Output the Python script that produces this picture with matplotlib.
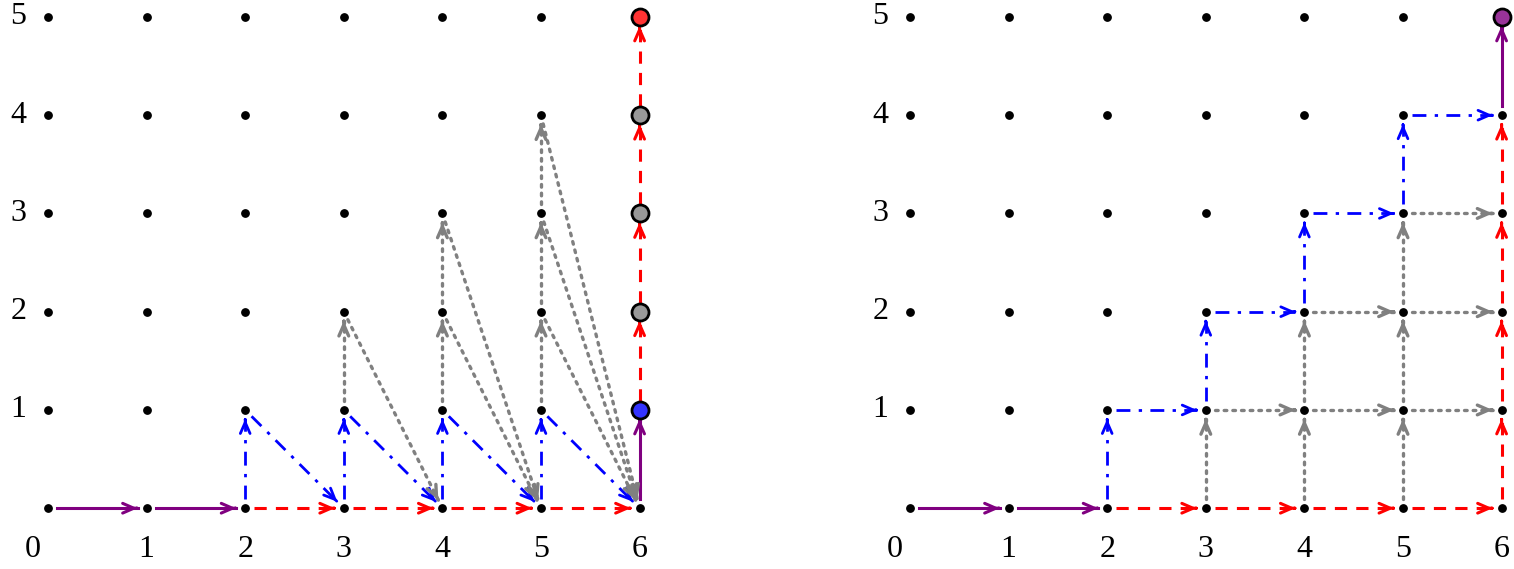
import matplotlib
matplotlib.use("Agg")
import matplotlib.pyplot as plt
import math

plt.rcParams['font.family'] = ['Liberation Serif', 'DejaVu Serif']
W, H = 1514, 569
U = 98.6
fig = plt.figure(figsize=(W/100, H/100), dpi=100)

xs = list(range(7)); ys = list(range(6))
x_labels = ['0', '1', '2', '3', '4', '5', '6']
y_labels = ['1', '2', '3', '4', '5']

PURPLE, RED, BLUE, GRAY = '#800080', '#ff0000', '#0000ff', '#808080'
STY = {'p': (PURPLE, '-', 2.2), 'r': (RED, (0, (4, 3)), 2.2),
       'b': (BLUE, (0, (5, 3, 1.2, 3)), 2.0), 'g': (GRAY, (0, (0.8, 1.8)), 2.4)}

left_edges = [('p', (0, 0), (1, 0)), ('p', (1, 0), (2, 0)), ('p', (6, 0), (6, 1))]
left_edges += [('r', (k, 0), (k + 1, 0)) for k in range(2, 6)]
left_edges += [('r', (6, k), (6, k + 1)) for k in range(1, 5)]
left_edges += [('b', (k, 0), (k, 1)) for k in range(2, 6)]
left_edges += [('b', (k, 1), (k + 1, 0)) for k in range(2, 6)]
left_gray = [(3, 1, 2), (4, 1, 2), (4, 2, 3), (5, 1, 2), (5, 2, 3), (5, 3, 4)]
left_edges += [('g', (x, a), (x, b)) for x, a, b in left_gray]
left_edges += [('g', (x, b), (x + 1, 0)) for x, a, b in left_gray]
left_marks = [((6, 1), '#3333ff'), ((6, 2), '#999999'), ((6, 3), '#999999'),
              ((6, 4), '#999999'), ((6, 5), '#ff3333')]

right_edges = [('p', (0, 0), (1, 0)), ('p', (1, 0), (2, 0)), ('p', (6, 4), (6, 5))]
right_edges += [('r', (k, 0), (k + 1, 0)) for k in range(2, 6)]
right_edges += [('r', (6, k), (6, k + 1)) for k in range(0, 4)]
stair = [(2, 0), (2, 1), (3, 1), (3, 2), (4, 2), (4, 3), (5, 3), (5, 4), (6, 4)]
right_edges += [('b', stair[i], stair[i + 1]) for i in range(len(stair) - 1)]
for x in range(3, 6):
    for y in range(0, x - 2):
        right_edges.append(('g', (x, y), (x, y + 1)))
for y in range(1, 4):
    for x in range(y + 2, 6):
        right_edges.append(('g', (x, y), (x + 1, y)))
right_marks = [((6, 5), '#993399')]

def panel(x0px, edges, marks):
    ax = fig.add_axes([(x0px - 48) / W, 0, 660 / W, 1])
    ax.set_xlim(-48 / U, -48 / U + 660 / U)
    ax.set_ylim(-(H - 508) / U, 5 + 17 / U)
    ax.axis('off')
    for key, a, b in edges:
        c, ls, lw = STY[key]
        dx, dy = b[0] - a[0], b[1] - a[1]
        L = math.hypot(dx, dy); ux, uy = dx / L, dy / L
        s0, s1 = 9 / U, 9 / U
        p0 = (a[0] + ux * s0, a[1] + uy * s0)
        p1 = (b[0] - ux * s1, b[1] - uy * s1)
        ax.plot([p0[0], p1[0]], [p0[1], p1[1]], color=c, linestyle=ls, lw=lw,
                dash_capstyle='round' if key == 'g' else 'butt', zorder=2)
        ax.annotate('', xy=p1, xytext=(p1[0] - ux * 0.01, p1[1] - uy * 0.01),
                    arrowprops=dict(arrowstyle='->,head_length=0.8,head_width=0.35', color=c,
                                    lw=lw, shrinkA=0, shrinkB=0), zorder=3)
    gx = [x for x in xs for y in ys]; gy = [y for x in xs for y in ys]
    ax.scatter(gx, gy, s=28, color='black', zorder=5)
    for (px, py), c in marks:
        ax.scatter(px, py, s=150, color=c, edgecolor='black', linewidth=2, zorder=6)
    ax.text(-0.15, -0.42, x_labels[0], fontsize=23, ha='center', va='center')
    for k in range(1, 7):
        ax.text(k, -0.42, x_labels[k], fontsize=23, ha='center', va='center')
    for k in range(1, 6):
        ax.text(-0.3, k, y_labels[k - 1], fontsize=23, ha='center', va='center')

panel(48, left_edges, left_marks)
panel(910, right_edges, right_marks)
fig.savefig('out.png', dpi=100)
